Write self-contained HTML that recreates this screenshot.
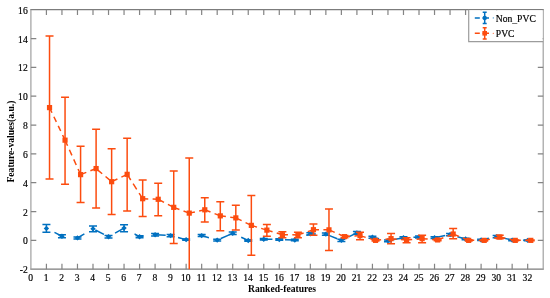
<!DOCTYPE html>
<html><head><meta charset="utf-8"><title>Ranked features</title>
<style>html,body{margin:0;padding:0;background:#fff;}body{width:550px;height:298px;position:relative;overflow:hidden;}</style>
</head><body>
<svg width="550" height="298" viewBox="0 0 550 298" style="position:absolute;left:0;top:0">
<rect x="0" y="0" width="550" height="298" fill="#fff"/>
<defs><clipPath id="c"><rect x="30.9" y="9.7" width="512.3000000000001" height="259.5"/></clipPath></defs>
<g stroke="#848484" stroke-width="1.2" fill="none">
<path d="M30.299999999999997 9.7H543.8000000000001M30.299999999999997 269.2H543.8000000000001" stroke="#7c7c7c"/>
<path d="M30.9 9.7V269.2M543.2 9.7V269.2" stroke="#a0a0a0"/>
<path d="M46.42 269.2v-5.4M46.42 9.7v5.4"/>
<path d="M61.95 269.2v-5.4M61.95 9.7v5.4"/>
<path d="M77.47 269.2v-5.4M77.47 9.7v5.4"/>
<path d="M93.00 269.2v-5.4M93.00 9.7v5.4"/>
<path d="M108.52 269.2v-5.4M108.52 9.7v5.4"/>
<path d="M124.05 269.2v-5.4M124.05 9.7v5.4"/>
<path d="M139.57 269.2v-5.4M139.57 9.7v5.4"/>
<path d="M155.09 269.2v-5.4M155.09 9.7v5.4"/>
<path d="M170.62 269.2v-5.4M170.62 9.7v5.4"/>
<path d="M186.14 269.2v-5.4M186.14 9.7v5.4"/>
<path d="M201.67 269.2v-5.4M201.67 9.7v5.4"/>
<path d="M217.19 269.2v-5.4M217.19 9.7v5.4"/>
<path d="M232.72 269.2v-5.4M232.72 9.7v5.4"/>
<path d="M248.24 269.2v-5.4M248.24 9.7v5.4"/>
<path d="M263.76 269.2v-5.4M263.76 9.7v5.4"/>
<path d="M279.29 269.2v-5.4M279.29 9.7v5.4"/>
<path d="M294.81 269.2v-5.4M294.81 9.7v5.4"/>
<path d="M310.34 269.2v-5.4M310.34 9.7v5.4"/>
<path d="M325.86 269.2v-5.4M325.86 9.7v5.4"/>
<path d="M341.38 269.2v-5.4M341.38 9.7v5.4"/>
<path d="M356.91 269.2v-5.4M356.91 9.7v5.4"/>
<path d="M372.43 269.2v-5.4M372.43 9.7v5.4"/>
<path d="M387.96 269.2v-5.4M387.96 9.7v5.4"/>
<path d="M403.48 269.2v-5.4M403.48 9.7v5.4"/>
<path d="M419.01 269.2v-5.4M419.01 9.7v5.4"/>
<path d="M434.53 269.2v-5.4M434.53 9.7v5.4"/>
<path d="M450.05 269.2v-5.4M450.05 9.7v5.4"/>
<path d="M465.58 269.2v-5.4M465.58 9.7v5.4"/>
<path d="M481.10 269.2v-5.4M481.10 9.7v5.4"/>
<path d="M496.63 269.2v-5.4M496.63 9.7v5.4"/>
<path d="M512.15 269.2v-5.4M512.15 9.7v5.4"/>
<path d="M527.68 269.2v-5.4M527.68 9.7v5.4"/>
<path d="M30.9 240.37h5.4M543.2 240.37h-5.4"/>
<path d="M30.9 211.53h5.4M543.2 211.53h-5.4"/>
<path d="M30.9 182.70h5.4M543.2 182.70h-5.4"/>
<path d="M30.9 153.87h5.4M543.2 153.87h-5.4"/>
<path d="M30.9 125.03h5.4M543.2 125.03h-5.4"/>
<path d="M30.9 96.20h5.4M543.2 96.20h-5.4"/>
<path d="M30.9 67.37h5.4M543.2 67.37h-5.4"/>
<path d="M30.9 38.53h5.4M543.2 38.53h-5.4"/>
</g>
<g clip-path="url(#c)" stroke="#0070C0" fill="none" stroke-width="1.5">
<polyline points="46.42,228.40 61.95,236.19 77.47,237.92 93.00,228.83 108.52,236.76 124.05,228.11 139.57,236.76 155.09,234.74 170.62,235.61 186.14,239.65 201.67,235.61 217.19,240.08 232.72,233.30 248.24,240.51 263.76,239.21 279.29,239.50 294.81,239.93 310.34,233.88 325.86,234.17 341.38,240.37 356.91,232.87 372.43,237.19 387.96,240.80 403.48,237.63 419.01,237.05 434.53,237.63 450.05,234.60 465.58,239.07 481.10,239.93 496.63,236.62 512.15,240.08 527.68,240.37" stroke-dasharray="9.7 12.6" stroke-dashoffset="-9"/>
<path d="M46.42 232.29V224.51M42.42 224.51h8.0M42.42 232.29h8.0"/>
<path d="M61.95 237.63V234.74M57.95 234.74h8.0M57.95 237.63h8.0"/>
<path d="M77.47 238.92V236.91M73.47 236.91h8.0M73.47 238.92h8.0"/>
<path d="M93.00 231.72V225.95M89.00 225.95h8.0M89.00 231.72h8.0"/>
<path d="M108.52 237.92V235.61M104.52 235.61h8.0M104.52 237.92h8.0"/>
<path d="M124.05 231.72V224.80M120.05 224.80h8.0M120.05 231.72h8.0"/>
<path d="M139.57 237.77V235.75M135.57 235.75h8.0M135.57 237.77h8.0"/>
<path d="M155.09 235.90V233.59M151.09 233.59h8.0M151.09 235.90h8.0"/>
<path d="M170.62 236.76V234.46M166.62 234.46h8.0M166.62 236.76h8.0"/>
<path d="M186.14 240.37V238.92M182.14 238.92h8.0M182.14 240.37h8.0"/>
<path d="M201.67 236.62V234.60M197.67 234.60h8.0M197.67 236.62h8.0"/>
<path d="M217.19 240.94V239.21M213.19 239.21h8.0M213.19 240.94h8.0"/>
<path d="M232.72 234.60V232.00M228.72 232.00h8.0M228.72 234.60h8.0"/>
<path d="M248.24 241.23V239.79M244.24 239.79h8.0M244.24 241.23h8.0"/>
<path d="M263.76 239.93V238.49M259.76 238.49h8.0M259.76 239.93h8.0"/>
<path d="M279.29 240.22V238.78M275.29 238.78h8.0M275.29 240.22h8.0"/>
<path d="M294.81 240.65V239.21M290.81 239.21h8.0M290.81 240.65h8.0"/>
<path d="M310.34 235.03V232.73M306.34 232.73h8.0M306.34 235.03h8.0"/>
<path d="M325.86 235.32V233.01M321.86 233.01h8.0M321.86 235.32h8.0"/>
<path d="M341.38 241.38V239.36M337.38 239.36h8.0M337.38 241.38h8.0"/>
<path d="M356.91 234.31V231.43M352.91 231.43h8.0M352.91 234.31h8.0"/>
<path d="M372.43 238.20V236.19M368.43 236.19h8.0M368.43 238.20h8.0"/>
<path d="M387.96 241.66V239.93M383.96 239.93h8.0M383.96 241.66h8.0"/>
<path d="M403.48 238.49V236.76M399.48 236.76h8.0M399.48 238.49h8.0"/>
<path d="M419.01 238.06V236.04M415.01 236.04h8.0M415.01 238.06h8.0"/>
<path d="M434.53 238.49V236.76M430.53 236.76h8.0M430.53 238.49h8.0"/>
<path d="M450.05 235.75V233.45M446.05 233.45h8.0M446.05 235.75h8.0"/>
<path d="M465.58 239.79V238.35M461.58 238.35h8.0M461.58 239.79h8.0"/>
<path d="M481.10 240.51V239.36M477.10 239.36h8.0M477.10 240.51h8.0"/>
<path d="M496.63 237.63V235.61M492.63 235.61h8.0M492.63 237.63h8.0"/>
<path d="M512.15 240.65V239.50M508.15 239.50h8.0M508.15 240.65h8.0"/>
<path d="M527.68 240.80V239.93M523.68 239.93h8.0M523.68 240.80h8.0"/>
<path d="M43.72 228.40L46.42 225.70L49.12 228.40L46.42 231.10Z" fill="#0070C0" stroke="none"/>
<path d="M59.25 236.19L61.95 233.49L64.65 236.19L61.95 238.89Z" fill="#0070C0" stroke="none"/>
<path d="M74.77 237.92L77.47 235.22L80.17 237.92L77.47 240.62Z" fill="#0070C0" stroke="none"/>
<path d="M90.30 228.83L93.00 226.13L95.70 228.83L93.00 231.53Z" fill="#0070C0" stroke="none"/>
<path d="M105.82 236.76L108.52 234.06L111.22 236.76L108.52 239.46Z" fill="#0070C0" stroke="none"/>
<path d="M121.35 228.11L124.05 225.41L126.75 228.11L124.05 230.81Z" fill="#0070C0" stroke="none"/>
<path d="M136.87 236.76L139.57 234.06L142.27 236.76L139.57 239.46Z" fill="#0070C0" stroke="none"/>
<path d="M152.39 234.74L155.09 232.04L157.79 234.74L155.09 237.44Z" fill="#0070C0" stroke="none"/>
<path d="M167.92 235.61L170.62 232.91L173.32 235.61L170.62 238.31Z" fill="#0070C0" stroke="none"/>
<path d="M183.44 239.65L186.14 236.95L188.84 239.65L186.14 242.35Z" fill="#0070C0" stroke="none"/>
<path d="M198.97 235.61L201.67 232.91L204.37 235.61L201.67 238.31Z" fill="#0070C0" stroke="none"/>
<path d="M214.49 240.08L217.19 237.38L219.89 240.08L217.19 242.78Z" fill="#0070C0" stroke="none"/>
<path d="M230.02 233.30L232.72 230.60L235.42 233.30L232.72 236.00Z" fill="#0070C0" stroke="none"/>
<path d="M245.54 240.51L248.24 237.81L250.94 240.51L248.24 243.21Z" fill="#0070C0" stroke="none"/>
<path d="M261.06 239.21L263.76 236.51L266.46 239.21L263.76 241.91Z" fill="#0070C0" stroke="none"/>
<path d="M276.59 239.50L279.29 236.80L281.99 239.50L279.29 242.20Z" fill="#0070C0" stroke="none"/>
<path d="M292.11 239.93L294.81 237.23L297.51 239.93L294.81 242.63Z" fill="#0070C0" stroke="none"/>
<path d="M307.64 233.88L310.34 231.18L313.04 233.88L310.34 236.58Z" fill="#0070C0" stroke="none"/>
<path d="M323.16 234.17L325.86 231.47L328.56 234.17L325.86 236.87Z" fill="#0070C0" stroke="none"/>
<path d="M338.68 240.37L341.38 237.67L344.08 240.37L341.38 243.07Z" fill="#0070C0" stroke="none"/>
<path d="M354.21 232.87L356.91 230.17L359.61 232.87L356.91 235.57Z" fill="#0070C0" stroke="none"/>
<path d="M369.73 237.19L372.43 234.50L375.13 237.19L372.43 239.89Z" fill="#0070C0" stroke="none"/>
<path d="M385.26 240.80L387.96 238.10L390.66 240.80L387.96 243.50Z" fill="#0070C0" stroke="none"/>
<path d="M400.78 237.63L403.48 234.93L406.18 237.63L403.48 240.33Z" fill="#0070C0" stroke="none"/>
<path d="M416.31 237.05L419.01 234.35L421.71 237.05L419.01 239.75Z" fill="#0070C0" stroke="none"/>
<path d="M431.83 237.63L434.53 234.93L437.23 237.63L434.53 240.33Z" fill="#0070C0" stroke="none"/>
<path d="M447.35 234.60L450.05 231.90L452.75 234.60L450.05 237.30Z" fill="#0070C0" stroke="none"/>
<path d="M462.88 239.07L465.58 236.37L468.28 239.07L465.58 241.77Z" fill="#0070C0" stroke="none"/>
<path d="M478.40 239.93L481.10 237.23L483.80 239.93L481.10 242.63Z" fill="#0070C0" stroke="none"/>
<path d="M493.93 236.62L496.63 233.92L499.33 236.62L496.63 239.32Z" fill="#0070C0" stroke="none"/>
<path d="M509.45 240.08L512.15 237.38L514.85 240.08L512.15 242.78Z" fill="#0070C0" stroke="none"/>
<path d="M524.98 240.37L527.68 237.67L530.38 240.37L527.68 243.07Z" fill="#0070C0" stroke="none"/>
</g>
<g clip-path="url(#c)" stroke="#FC4C0F" fill="none" stroke-width="1.5">
<path d="M49.53 107.59L65.05 140.17" stroke-dasharray="5.72 4.4"/>
<path d="M65.05 140.17L80.58 174.63" stroke-dasharray="6.15 4.4"/>
<path d="M80.58 174.63L96.10 168.57" stroke-dasharray="6.13 4.4"/>
<path d="M96.10 168.57L111.63 181.69" stroke-dasharray="7.96 4.4"/>
<path d="M111.63 181.69L127.15 174.34" stroke-dasharray="6.39 4.4"/>
<path d="M127.15 174.34L142.67 198.70" stroke-dasharray="6.70 4.4"/>
<path d="M142.67 198.70L158.20 199.28" stroke-dasharray="5.57 4.4"/>
<path d="M158.20 199.28L173.72 207.35" stroke-dasharray="6.55 4.4"/>
<path d="M173.72 207.35L189.25 213.12" stroke-dasharray="6.08 4.4"/>
<path d="M189.25 213.12L204.77 209.80" stroke-dasharray="5.74 4.4"/>
<path d="M204.77 209.80L220.30 215.86" stroke-dasharray="6.13 4.4"/>
<path d="M220.30 215.86L235.82 217.88" stroke-dasharray="5.63 4.4"/>
<path d="M235.82 217.88L251.34 225.37" stroke-dasharray="6.42 4.4"/>
<path d="M251.34 225.37L266.87 230.13" stroke-dasharray="5.92 4.4"/>
<path d="M266.87 230.13L282.39 234.74" stroke-dasharray="5.90 4.4"/>
<path d="M282.39 234.74L297.92 234.89" stroke-dasharray="5.56 4.4"/>
<path d="M297.92 234.89L313.44 229.70" stroke-dasharray="5.98 4.4"/>
<path d="M313.44 229.70L328.97 229.84" stroke-dasharray="5.56 4.4"/>
<path d="M328.97 229.84L344.49 236.62" stroke-dasharray="6.27 4.4"/>
<path d="M344.49 236.62L360.01 235.61" stroke-dasharray="5.58 4.4"/>
<path d="M360.01 235.61L375.54 240.37" stroke-dasharray="5.92 4.4"/>
<path d="M375.54 240.37L391.06 238.64" stroke-dasharray="5.61 4.4"/>
<path d="M391.06 238.64L406.59 240.08" stroke-dasharray="5.60 4.4"/>
<path d="M406.59 240.08L422.11 238.64" stroke-dasharray="5.60 4.4"/>
<path d="M422.11 238.64L437.64 239.93" stroke-dasharray="5.59 4.4"/>
<path d="M437.64 239.93L453.16 234.02" stroke-dasharray="6.11 4.4"/>
<path d="M453.16 234.02L468.68 240.37" stroke-dasharray="6.19 4.4"/>
<path d="M468.68 240.37L484.21 240.37" stroke-dasharray="5.56 4.4"/>
<path d="M484.21 240.37L499.73 237.05" stroke-dasharray="5.74 4.4"/>
<path d="M499.73 237.05L515.26 240.37" stroke-dasharray="5.74 4.4"/>
<path d="M515.26 240.37L530.78 240.37" stroke-dasharray="5.56 4.4"/>
<path d="M49.53 179.10V36.08M45.53 36.08h8.0M45.53 179.10h8.0"/>
<path d="M65.05 184.14V97.35M61.05 97.35h8.0M61.05 184.14h8.0"/>
<path d="M80.58 202.45V146.37M76.58 146.37h8.0M76.58 202.45h8.0"/>
<path d="M96.10 208.07V129.36M92.10 129.36h8.0M92.10 208.07h8.0"/>
<path d="M111.63 214.56V148.82M107.63 148.82h8.0M107.63 214.56h8.0"/>
<path d="M127.15 210.96V138.30M123.15 138.30h8.0M123.15 210.96h8.0"/>
<path d="M142.67 216.58V180.10M138.67 180.10h8.0M138.67 216.58h8.0"/>
<path d="M158.20 215.86V183.13M154.20 183.13h8.0M154.20 215.86h8.0"/>
<path d="M173.72 243.39V170.88M169.72 170.88h8.0M169.72 243.39h8.0"/>
<path d="M189.25 276.41V157.90M185.25 157.90h8.0M185.25 276.41h8.0"/>
<path d="M204.77 221.91V197.84M200.77 197.84h8.0M200.77 221.91h8.0"/>
<path d="M220.30 230.71V201.87M216.30 201.87h8.0M216.30 230.71h8.0"/>
<path d="M235.82 229.99V205.33M231.82 205.33h8.0M231.82 229.99h8.0"/>
<path d="M251.34 255.22V195.39M247.34 195.39h8.0M247.34 255.22h8.0"/>
<path d="M266.87 236.19V224.51M262.87 224.51h8.0M262.87 236.19h8.0"/>
<path d="M282.39 237.63V231.86M278.39 231.86h8.0M278.39 237.63h8.0"/>
<path d="M297.92 237.63V232.29M293.92 232.29h8.0M293.92 237.63h8.0"/>
<path d="M313.44 235.18V224.08M309.44 224.08h8.0M309.44 235.18h8.0"/>
<path d="M328.97 250.60V209.08M324.97 209.08h8.0M324.97 250.60h8.0"/>
<path d="M344.49 237.77V235.46M340.49 235.46h8.0M340.49 237.77h8.0"/>
<path d="M360.01 239.65V232.15M356.01 232.15h8.0M356.01 239.65h8.0"/>
<path d="M375.54 241.09V239.65M371.54 239.65h8.0M371.54 241.09h8.0"/>
<path d="M391.06 243.68V233.59M387.06 233.59h8.0M387.06 243.68h8.0"/>
<path d="M406.59 242.82V237.63M402.59 237.63h8.0M402.59 242.82h8.0"/>
<path d="M422.11 242.67V235.18M418.11 235.18h8.0M418.11 242.67h8.0"/>
<path d="M437.64 240.80V239.07M433.64 239.07h8.0M433.64 240.80h8.0"/>
<path d="M453.16 238.64V228.54M449.16 228.54h8.0M449.16 238.64h8.0"/>
<path d="M468.68 240.94V239.79M464.68 239.79h8.0M464.68 240.94h8.0"/>
<path d="M484.21 240.94V239.79M480.21 239.79h8.0M480.21 240.94h8.0"/>
<path d="M499.73 238.78V235.32M495.73 235.32h8.0M495.73 238.78h8.0"/>
<path d="M515.26 240.80V239.93M511.26 239.93h8.0M511.26 240.80h8.0"/>
<path d="M530.78 240.80V239.93M526.78 239.93h8.0M526.78 240.80h8.0"/>
<rect x="46.93" y="104.99" width="5.2" height="5.2" fill="#FC4C0F" stroke="none"/>
<rect x="62.45" y="137.57" width="5.2" height="5.2" fill="#FC4C0F" stroke="none"/>
<rect x="77.98" y="172.03" width="5.2" height="5.2" fill="#FC4C0F" stroke="none"/>
<rect x="93.50" y="165.97" width="5.2" height="5.2" fill="#FC4C0F" stroke="none"/>
<rect x="109.03" y="179.09" width="5.2" height="5.2" fill="#FC4C0F" stroke="none"/>
<rect x="124.55" y="171.74" width="5.2" height="5.2" fill="#FC4C0F" stroke="none"/>
<rect x="140.07" y="196.10" width="5.2" height="5.2" fill="#FC4C0F" stroke="none"/>
<rect x="155.60" y="196.68" width="5.2" height="5.2" fill="#FC4C0F" stroke="none"/>
<rect x="171.12" y="204.75" width="5.2" height="5.2" fill="#FC4C0F" stroke="none"/>
<rect x="186.65" y="210.52" width="5.2" height="5.2" fill="#FC4C0F" stroke="none"/>
<rect x="202.17" y="207.20" width="5.2" height="5.2" fill="#FC4C0F" stroke="none"/>
<rect x="217.70" y="213.26" width="5.2" height="5.2" fill="#FC4C0F" stroke="none"/>
<rect x="233.22" y="215.28" width="5.2" height="5.2" fill="#FC4C0F" stroke="none"/>
<rect x="248.74" y="222.77" width="5.2" height="5.2" fill="#FC4C0F" stroke="none"/>
<rect x="264.27" y="227.53" width="5.2" height="5.2" fill="#FC4C0F" stroke="none"/>
<rect x="279.79" y="232.14" width="5.2" height="5.2" fill="#FC4C0F" stroke="none"/>
<rect x="295.32" y="232.29" width="5.2" height="5.2" fill="#FC4C0F" stroke="none"/>
<rect x="310.84" y="227.10" width="5.2" height="5.2" fill="#FC4C0F" stroke="none"/>
<rect x="326.37" y="227.24" width="5.2" height="5.2" fill="#FC4C0F" stroke="none"/>
<rect x="341.89" y="234.02" width="5.2" height="5.2" fill="#FC4C0F" stroke="none"/>
<rect x="357.41" y="233.01" width="5.2" height="5.2" fill="#FC4C0F" stroke="none"/>
<rect x="372.94" y="237.77" width="5.2" height="5.2" fill="#FC4C0F" stroke="none"/>
<rect x="388.46" y="236.04" width="5.2" height="5.2" fill="#FC4C0F" stroke="none"/>
<rect x="403.99" y="237.48" width="5.2" height="5.2" fill="#FC4C0F" stroke="none"/>
<rect x="419.51" y="236.04" width="5.2" height="5.2" fill="#FC4C0F" stroke="none"/>
<rect x="435.04" y="237.33" width="5.2" height="5.2" fill="#FC4C0F" stroke="none"/>
<rect x="450.56" y="231.42" width="5.2" height="5.2" fill="#FC4C0F" stroke="none"/>
<rect x="466.08" y="237.77" width="5.2" height="5.2" fill="#FC4C0F" stroke="none"/>
<rect x="481.61" y="237.77" width="5.2" height="5.2" fill="#FC4C0F" stroke="none"/>
<rect x="497.13" y="234.45" width="5.2" height="5.2" fill="#FC4C0F" stroke="none"/>
<rect x="512.66" y="237.77" width="5.2" height="5.2" fill="#FC4C0F" stroke="none"/>
<rect x="528.18" y="237.77" width="5.2" height="5.2" fill="#FC4C0F" stroke="none"/>
</g>
<g font-family="'Liberation Serif','Times New Roman',serif" font-size="9.6" fill="#000" stroke="#000" stroke-width="0.18">
<text x="30.60" y="281.1" text-anchor="middle">0</text>
<text x="46.12" y="281.1" text-anchor="middle">1</text>
<text x="61.65" y="281.1" text-anchor="middle">2</text>
<text x="77.17" y="281.1" text-anchor="middle">3</text>
<text x="92.70" y="281.1" text-anchor="middle">4</text>
<text x="108.22" y="281.1" text-anchor="middle">5</text>
<text x="123.75" y="281.1" text-anchor="middle">6</text>
<text x="139.27" y="281.1" text-anchor="middle">7</text>
<text x="154.79" y="281.1" text-anchor="middle">8</text>
<text x="170.32" y="281.1" text-anchor="middle">9</text>
<text x="185.84" y="281.1" text-anchor="middle">10</text>
<text x="201.37" y="281.1" text-anchor="middle">11</text>
<text x="216.89" y="281.1" text-anchor="middle">12</text>
<text x="232.42" y="281.1" text-anchor="middle">13</text>
<text x="247.94" y="281.1" text-anchor="middle">14</text>
<text x="263.46" y="281.1" text-anchor="middle">15</text>
<text x="278.99" y="281.1" text-anchor="middle">16</text>
<text x="294.51" y="281.1" text-anchor="middle">17</text>
<text x="310.04" y="281.1" text-anchor="middle">18</text>
<text x="325.56" y="281.1" text-anchor="middle">19</text>
<text x="341.08" y="281.1" text-anchor="middle">20</text>
<text x="356.61" y="281.1" text-anchor="middle">21</text>
<text x="372.13" y="281.1" text-anchor="middle">22</text>
<text x="387.66" y="281.1" text-anchor="middle">23</text>
<text x="403.18" y="281.1" text-anchor="middle">24</text>
<text x="418.71" y="281.1" text-anchor="middle">25</text>
<text x="434.23" y="281.1" text-anchor="middle">26</text>
<text x="449.75" y="281.1" text-anchor="middle">27</text>
<text x="465.28" y="281.1" text-anchor="middle">28</text>
<text x="480.80" y="281.1" text-anchor="middle">29</text>
<text x="496.33" y="281.1" text-anchor="middle">30</text>
<text x="511.85" y="281.1" text-anchor="middle">31</text>
<text x="527.38" y="281.1" text-anchor="middle">32</text>
<text x="27.7" y="273.30" text-anchor="end">-2</text>
<text x="27.7" y="244.47" text-anchor="end">0</text>
<text x="27.7" y="215.63" text-anchor="end">2</text>
<text x="27.7" y="186.80" text-anchor="end">4</text>
<text x="27.7" y="157.97" text-anchor="end">6</text>
<text x="27.7" y="129.13" text-anchor="end">8</text>
<text x="27.7" y="100.30" text-anchor="end">10</text>
<text x="27.7" y="71.47" text-anchor="end">12</text>
<text x="27.7" y="42.63" text-anchor="end">14</text>
<text x="27.7" y="13.80" text-anchor="end">16</text>
</g>
<g font-family="'Liberation Serif','Times New Roman',serif" font-size="9.6" font-weight="bold" fill="#000">
<text x="282.1" y="291.8" text-anchor="middle">Ranked-features</text>
<text transform="translate(13.9 141.6) rotate(-90)" text-anchor="middle">Feature-values(a.u.)</text>
</g>
<rect x="468.7" y="10.30" width="73.90" height="31.40" fill="#fff" stroke="none"/>
<path d="M468.7 9.7V41.7H543.2" fill="none" stroke="#9c9c9c" stroke-width="1.2"/>
<g stroke="#0070C0" stroke-width="1.5" fill="none">
<path d="M474.8 17.9h5M482.6 17.9h6.4"/>
<path d="M484.7 12.299999999999999V23.5M482.7 12.299999999999999h4M482.7 23.5h4"/>
<circle cx="484.7" cy="17.9" r="2.2" fill="#0070C0" stroke="none"/>
</g>
<circle cx="493.3" cy="17.9" r="0.65" fill="#0070C0" opacity="0.8"/>
<text x="495.8" y="21.70" font-family="'Liberation Serif','Times New Roman',serif" font-size="9.6" fill="#000" stroke="#000" stroke-width="0.18">Non_PVC</text>
<g stroke="#FC4C0F" stroke-width="1.5" fill="none">
<path d="M474.8 33.3h5M482.6 33.3h6.4"/>
<path d="M484.7 27.699999999999996V38.9M482.7 27.699999999999996h4M482.7 38.9h4"/>
<rect x="482.4" y="30.999999999999996" width="4.6" height="4.6" fill="#FC4C0F" stroke="none"/>
</g>
<circle cx="493.3" cy="33.3" r="0.65" fill="#FC4C0F" opacity="0.8"/>
<text x="495.8" y="37.10" font-family="'Liberation Serif','Times New Roman',serif" font-size="9.6" fill="#000" stroke="#000" stroke-width="0.18">PVC</text>
</svg>
</body></html>
